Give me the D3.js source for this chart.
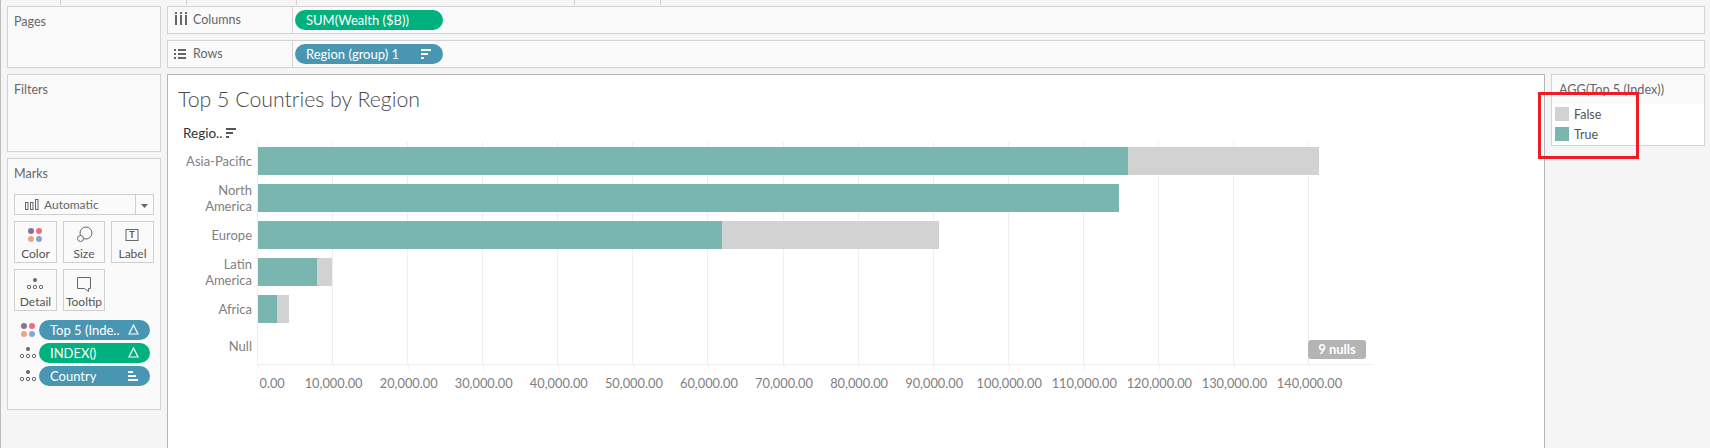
<!DOCTYPE html>
<html>
<head>
<meta charset="utf-8">
<script src="https://cdn.jsdelivr.net/npm/d3@7"></script>
<style>
  html, body { margin: 0; padding: 0; background: #f5f5f5; overflow: hidden; }
  svg { display: block; }
  text { font-family: Lato, "Open Sans", sans-serif; font-size: 12.5px; fill: #666; }
  .domain { display: none; }
</style>
</head>
<body>
<svg id="chart" width="1710" height="448"></svg>
<script>
// chart data
var regions = ['Asia-Pacific', 'North America', 'Europe', 'Latin America', 'Africa', 'Null'];
var top5Wealth = [115890, 114690, 61810, 7860, 2530, null];
var otherWealth = [25450, 0, 28910, 2000, 1600, null];
var axisTicks = [0, 10000, 20000, 30000, 40000, 50000, 60000, 70000, 80000, 90000, 100000, 110000, 120000, 130000, 140000];
var legendLabels = ['False', 'True'];
var legendColors = ['#d2d2d2', '#79b6b0'];
var markPills = ['Top 5 (Inde..', 'INDEX()', 'Country'];
var markPillColors = ['#4996b2', '#00b180', '#4996b2'];
var markButtons = ['Color', 'Size', 'Label', 'Detail', 'Tooltip'];

var svg = d3.select('#chart');
var chrome = svg.append('g').attr('class', 'chrome');

function box(g, x, y, w, h, fill, stroke) {
  return g.append('rect')
    .attr('x', x + 0.5).attr('y', y + 0.5)
    .attr('width', w).attr('height', h)
    .attr('fill', fill).attr('stroke', stroke || '#d4d4d4');
}
function label(g, x, y, txt, color, size, anchor) {
  var t = g.append('text')
    .attr('x', x).attr('y', y).attr('dy', '0.35em')
    .attr('text-anchor', anchor || 'start')
    .text(txt);
  if (color) t.style('fill', color);
  if (size) t.style('font-size', size + 'px');
  return t;
}
function pill(g, x, y, w, h, color) {
  g.append('rect').attr('x', x).attr('y', y).attr('width', w).attr('height', h)
    .attr('rx', h / 2).attr('fill', color);
}
function bars(g, x, y, widths, color) {
  widths.forEach(function(w, i) {
    g.append('rect').attr('x', x).attr('y', y + i * 4).attr('width', w).attr('height', 2).attr('fill', color);
  });
}
function colorDots(g, cx, cy) {
  var c = ['#8b6f97', '#f26d80', '#f2a57c', '#82a8d6'];
  d3.range(4).forEach(function(i) {
    g.append('circle').attr('cx', cx - 4 + (i % 2) * 8).attr('cy', cy - 4 + (i > 1 ? 8 : 0))
      .attr('r', 3).attr('fill', c[i]);
  });
}
function detailDots(g, cx, cy) {
  g.append('circle').attr('cx', cx).attr('cy', cy - 4).attr('r', 2).attr('fill', '#666');
  [-6, 0, 6].forEach(function(dx) {
    g.append('circle').attr('cx', cx + dx).attr('cy', cy + 3).attr('r', 1.7)
      .attr('fill', 'none').attr('stroke', '#666');
  });
}
function triangle(g, cx, cy, color) {
  g.append('path').attr('d', 'M' + cx + ',' + (cy - 5) + 'L' + (cx + 4.5) + ',' + (cy + 4) + 'L' + (cx - 4.5) + ',' + (cy + 4) + 'Z')
    .attr('fill', 'none').attr('stroke', color).attr('stroke-width', 1.2);
}

// outer lines and tabs at the very top
chrome.append('rect').attr('x', 0).attr('y', 0).attr('width', 1).attr('height', 448).attr('fill', '#bcbcbc');
[60, 186, 296, 574, 660].forEach(function(x) {
  chrome.append('rect').attr('x', x).attr('y', 0).attr('width', 1).attr('height', 5).attr('fill', '#cfcfcf');
});

// left cards
box(chrome, 7, 6, 153, 61, '#fafafa');
label(chrome, 14, 22, 'Pages');
box(chrome, 7, 74, 153, 77, '#fafafa');
label(chrome, 14, 90, 'Filters');
box(chrome, 7, 158, 153, 251, '#fafafa');
label(chrome, 14, 174, 'Marks');

// marks type dropdown
box(chrome, 14, 194, 139, 20, '#fafafa', '#cfcfcf');
chrome.append('rect').attr('x', 135).attr('y', 194).attr('width', 1).attr('height', 20).attr('fill', '#cfcfcf');
[[25, 4], [30, 4], [35, 7]].forEach(function(b) {
  chrome.append('rect').attr('x', b[0] + 0.5).attr('y', 209.5 - b[1] - 3).attr('width', 2.5).attr('height', b[1] + 3)
    .attr('fill', 'none').attr('stroke', '#666');
});
label(chrome, 44, 205, 'Automatic', '#666', 12);
chrome.append('path').attr('d', 'M141,204L148,204L144.5,208Z').attr('fill', '#666');

// marks buttons
var buttonX = [14, 63, 111, 14, 63];
var buttonY = [221, 221, 221, 269, 269];
var buttonW = [42, 41, 42, 42, 41];
markButtons.forEach(function(name, i) {
  box(chrome, buttonX[i], buttonY[i], buttonW[i], 41, '#fafafa', '#cfcfcf');
  label(chrome, buttonX[i] + buttonW[i] / 2 + 0.5, buttonY[i] + 33, name, '#555', 12, 'middle');
});
colorDots(chrome, 35, 235);
chrome.append('circle').attr('cx', 86).attr('cy', 233).attr('r', 6).attr('fill', 'none').attr('stroke', '#666');
chrome.append('circle').attr('cx', 80.5).attr('cy', 238.5).attr('r', 3).attr('fill', '#fafafa').attr('stroke', '#666');
box(chrome, 125.5, 229, 12, 11, 'none', '#666');
label(chrome, 132, 235, 'T', '#555', 9, 'middle').style('font-weight', 700);
detailDots(chrome, 35, 284);
chrome.append('path').attr('d', 'M77.5,277.5H90.5V288.5H88.5V291.5L84.5,288.5H77.5Z').attr('fill', 'none').attr('stroke', '#666');

// marks pills
var pillY = [320, 343, 366];
markPills.forEach(function(name, i) {
  pill(chrome, 39, pillY[i], 111, 20, markPillColors[i]);
  label(chrome, 50, pillY[i] + 10, name, '#fff', 13);
  if (i === 0) colorDots(chrome, 28, pillY[i] + 10);
  else detailDots(chrome, 28, pillY[i] + 10);
  if (i < 2) triangle(chrome, 133.5, pillY[i] + 10, '#fff');
});
[5, 8, 10].forEach(function(w, i) {
  chrome.append('rect').attr('x', 128).attr('y', 371 + i * 4).attr('width', w).attr('height', 2).attr('fill', '#fff');
});

// shelves
[[6, 'Columns'], [40, 'Rows']].forEach(function(s) {
  box(chrome, 167, s[0], 1537, 27, '#fafafa');
  chrome.append('rect').attr('x', 292).attr('y', s[0]).attr('width', 1).attr('height', 27).attr('fill', '#d4d4d4');
  label(chrome, 193, s[0] + 14, s[1], '#666');
});
[0, 5, 10].forEach(function(dx) {
  chrome.append('rect').attr('x', 175 + dx).attr('y', 15).attr('width', 2).attr('height', 10).attr('fill', '#666');
  chrome.append('rect').attr('x', 175 + dx).attr('y', 12).attr('width', 2).attr('height', 2).attr('fill', '#666');
});
[0, 4, 8].forEach(function(dy) {
  chrome.append('rect').attr('x', 174).attr('y', 49 + dy).attr('width', 2).attr('height', 2).attr('fill', '#666');
  chrome.append('rect').attr('x', 178).attr('y', 49 + dy).attr('width', 8).attr('height', 2).attr('fill', '#666');
});
pill(chrome, 295, 10, 148, 20, '#00b180');
label(chrome, 306, 20, 'SUM(Wealth ($B))', '#fff', 13);
pill(chrome, 295, 44, 148, 20, '#4996b2');
label(chrome, 306, 54, 'Region (group) 1', '#fff', 13);
bars(chrome, 421, 49, [10, 7, 3], '#fff');

// worksheet panel (runs past the bottom of the window)
chrome.append('rect').attr('x', 167.5).attr('y', 74.5).attr('width', 1377).attr('height', 400)
  .attr('fill', '#fff').attr('stroke', '#b5b5b5');
label(chrome, 178, 100, 'Top 5 Countries by Region', '#4a4a4a', 21.3).style('font-weight', 300);
label(chrome, 183, 133.5, 'Regio..', '#333', 13.5);
bars(chrome, 226, 128, [10, 7, 3], '#555');

// chart
var x = d3.scaleLinear().domain([0, 140000]).range([258, 1309]);
var y = d3.scaleBand().domain(regions).range([142.5, 364.5]).paddingInner(0.243).paddingOuter(0.1215);
var color = d3.scaleOrdinal().domain(['top5', 'other']).range([legendColors[1], legendColors[0]]);

var rows = regions.map(function(r, i) {
  return { region: r, top5: top5Wealth[i], other: otherWealth[i] };
});

var xAxis = svg.append('g').attr('class', 'x-axis')
  .attr('transform', 'translate(0,364.5)')
  .call(d3.axisBottom(x).tickValues(axisTicks).tickFormat(d3.format(',.2f')).tickSize(5).tickPadding(9));
xAxis.selectAll('.tick line').attr('stroke', '#efefef');
xAxis.selectAll('.tick text').style('font-size', '12.8px').style('fill', '#808080').attr('font-family', null);
xAxis.selectAll('.tick').filter(function(d) { return d === 0; }).select('text')
  .attr('text-anchor', 'start').attr('x', 1);

// gridlines
svg.append('g').attr('class', 'grid')
  .selectAll('line').data(axisTicks)
  .enter().append('line')
    .attr('x1', function(d) { return Math.round(x(d)) - 0.5; })
    .attr('x2', function(d) { return Math.round(x(d)) - 0.5; })
    .attr('y1', 142)
    .attr('y2', 364)
    .attr('stroke', '#efefef');
svg.append('line').attr('x1', 257).attr('x2', 1372).attr('y1', 364.5).attr('y2', 364.5).attr('stroke', '#efefef');

var stack = d3.stack().keys(['top5', 'other']).value(function(d, k) { return d[k] || 0; });
svg.append('g').attr('class', 'bars')
  .selectAll('g').data(stack(rows))
  .enter().append('g')
    .attr('fill', function(s) { return color(s.key); })
  .selectAll('rect').data(function(s) { return s; })
  .enter().append('rect')
    .attr('x', function(d) { return x(d[0]); })
    .attr('y', function(d) { return y(d.data.region); })
    .attr('width', function(d) { return x(d[1]) - x(d[0]); })
    .attr('height', y.bandwidth());

// region labels, wrapped on the space like the original
var yAxis = svg.append('g').attr('class', 'y-axis')
  .attr('transform', 'translate(252,0)')
  .call(d3.axisLeft(y).tickSize(0).tickPadding(0));
yAxis.selectAll('.tick text').each(function(d) {
  var t = d3.select(this), parts = d.split(' ');
  t.text(null).attr('dy', null).attr('y', null).style('font-size', '13px').style('fill', '#808080');
  parts.forEach(function(p, i) {
    t.append('tspan').attr('x', 0)
      .attr('y', (i - (parts.length - 1) / 2) * 16)
      .attr('dy', '0.35em')
      .text(p);
  });
});

// nulls badge
svg.append('rect').attr('x', 1308).attr('y', 340).attr('width', 58).attr('height', 19).attr('rx', 3).attr('fill', '#b4b4b4');
label(svg, 1337, 349.5, '9 nulls', '#fff', 13, 'middle').style('font-weight', 700);

// legend
box(chrome, 1551, 74, 153, 71, '#fff');
chrome.append('rect').attr('x', 1552).attr('y', 75).attr('width', 152).attr('height', 29).attr('fill', '#fafafa');
label(chrome, 1559, 90, 'AGG(Top 5 (Index))', '#666', 12.7);
var legend = svg.append('g').attr('class', 'legend');
legend.selectAll('rect').data(legendLabels).enter().append('rect')
  .attr('x', 1555).attr('y', function(d, i) { return 107 + i * 20; })
  .attr('width', 14).attr('height', 14)
  .attr('fill', function(d, i) { return legendColors[i]; });
legendLabels.forEach(function(d, i) {
  label(legend, 1574, 114.5 + i * 20, d, '#555');
});

// red annotation box
svg.append('rect').attr('x', 1539.5).attr('y', 93.5).attr('width', 98).attr('height', 64)
  .attr('fill', 'none').attr('stroke', '#ee1c25').attr('stroke-width', 3);
</script>
</body>
</html>
